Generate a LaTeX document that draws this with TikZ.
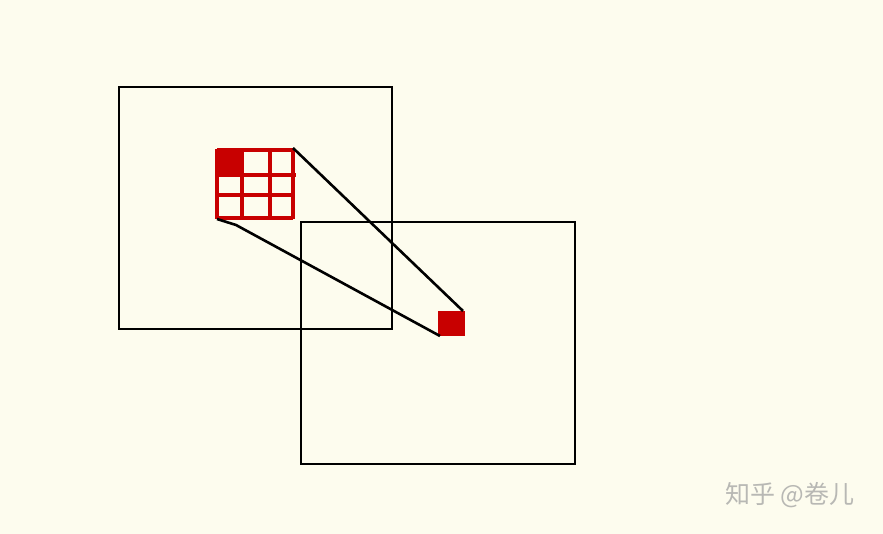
\documentclass[tikz,border=0pt]{standalone}
\usepackage{fontspec}
\newfontfamily\cjk{Noto Sans CJK SC}
\definecolor{bg}{HTML}{FDFCEE}
\definecolor{gridred}{HTML}{C80000}
\definecolor{wm}{HTML}{B8B8B4}
\tikzset{
  frame/.style={draw=black, line width=2.6pt},
  redline/.style={draw=gridred, line width=3.2pt},
  link/.style={draw=black, line width=2.6pt},
}
\begin{document}
\begin{tikzpicture}[x=1pt,y=-1pt]
\useasboundingbox[fill=bg] (0,0) rectangle (883,534);
% frames
\draw[frame] (119,87) rectangle (392,329);
\draw[frame] (301,222) rectangle (575,464);
% grid
\fill[gridred] (217,150) rectangle (242,175);
\foreach \x in {217,242,270,293} \draw[redline] (\x,149) -- (\x,219);
\foreach \y in {150,195,218} \draw[redline] (217,\y) -- (293,\y);
\draw[redline] (217,175) -- (296,175);
% target square
\fill[gridred] (438,311) rectangle (465,336);
% connectors
\coordinate (gtr) at (293,148);
\coordinate (gbl) at (217,219);
\coordinate (kink) at (236,225);
\coordinate (str) at (463,311);
\coordinate (sbl) at (440,336);
\draw[link] (gtr) -- (str);
\draw[link] (gbl) -- (kink) -- (sbl);
% watermark
\node[text=wm, font=\cjk\fontsize{25}{28}\selectfont, anchor=center] (wm) at (790,495) {知乎 @卷儿};
\end{tikzpicture}
\end{document}
